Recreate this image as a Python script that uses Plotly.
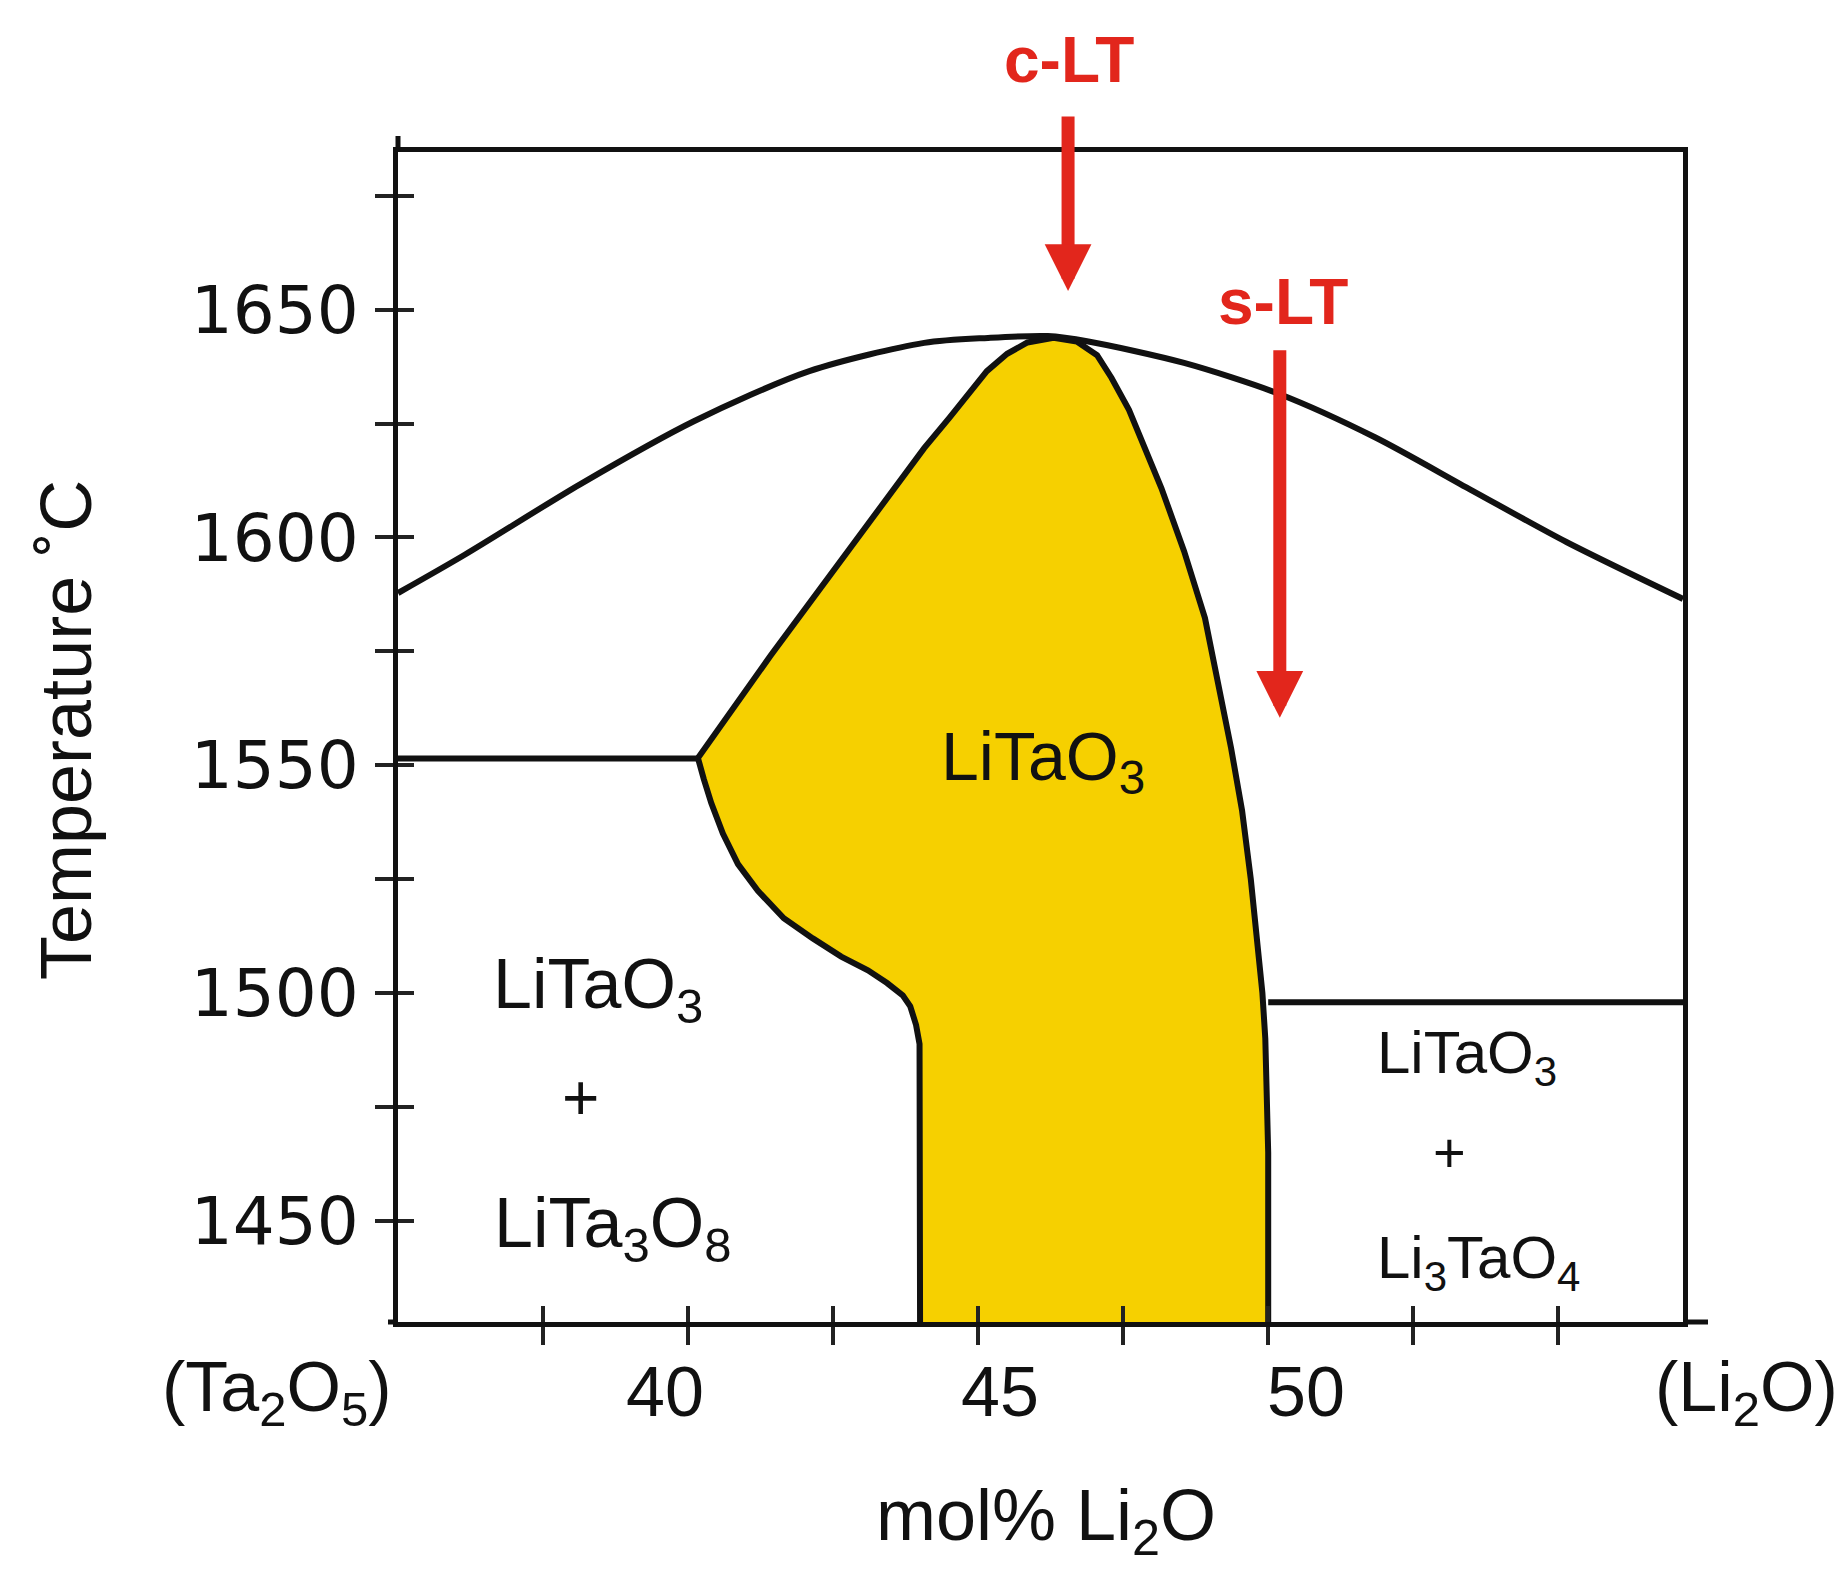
import plotly.graph_objects as go

# ---------------- data ----------------
# liquidus curve (mol% Li2O, temperature in °C)
liq_x = [35.0, 36.15, 38.13, 40.10, 42.09, 44.07, 45.17, 46.2, 46.9, 48.55, 50.19, 51.84, 53.5, 55.14, 57.15]
liq_T = [1587.8, 1596.2, 1611.6, 1625.5, 1636.5, 1642.7, 1643.8, 1644.2, 1643.0, 1638.3, 1631.5, 1622.0, 1610.4, 1599.0, 1586.5]

# LiTaO3 solid-solution field: left boundary (bottom -> apex)
ss_left_x = [44.0, 44.0, 43.99, 43.93, 43.83, 43.7, 43.43, 43.1, 42.64, 42.15, 41.65, 41.2, 40.86,
             40.6, 40.40, 40.27, 40.17, 41.43, 42.74, 44.07, 44.5, 45.15, 45.5, 45.85, 46.3]
ss_left_T = [1420, 1480, 1488.8, 1493.0, 1497.1, 1499.5, 1502.2, 1505.0, 1508.0, 1512.0, 1516.4, 1522.5, 1528.3,
             1535.0, 1541.7, 1547.0, 1551.6, 1574.2, 1597.0, 1619.6, 1626.2, 1636.5, 1640.3, 1642.8, 1643.8]
# right boundary (apex -> bottom)
ss_right_x = [46.7, 47.05, 47.3, 47.6, 48.16, 48.55, 48.91, 49.36, 49.55, 49.70, 49.82, 49.90, 49.95, 49.98, 50.0, 50.0]
ss_right_T = [1643.0, 1640.0, 1635.0, 1628.0, 1610.8, 1597.0, 1582.3, 1553.8, 1540.0, 1525.0, 1510.0, 1500.0, 1490.0, 1478.0, 1465.0, 1420]

# eutectic lines
eut_left_x = [35.0, 40.17]
eut_left_T = [1551.5, 1551.5]
eut_right_x = [50.0, 57.15]
eut_right_T = [1498.0, 1498.0]

# growth compositions (arrows): x, arrow tail T, arrow tip T
clt_x, clt_tail, clt_tip = 46.55, 1692.7, 1654.1
slt_x, slt_tail, slt_tip = 50.2, 1641.4, 1560.4

# axes
x_range = [35.0, 57.15]
y_range = [1427.8, 1684.6]
x_ticks = [37.5, 40, 42.5, 45, 47.5, 50, 52.5, 55]
y_ticks = [1450, 1475, 1500, 1525, 1550, 1575, 1600, 1625, 1650, 1675]
y_ticktext = ["1450", "", "1500", "", "1550", "", "1600", "", "1650", ""]
x_label_text = ["(Ta<sub>2</sub>O<sub>5</sub>)", "40", "45", "50", "(Li<sub>2</sub>O)"]
x_label_pix = [269, 657, 992, 1298, 1738]

# ---------------- figure ----------------
W, H = 1847, 1571
ML, MR, MT, MB = 390, 172, 144, 257
PW, PH = W - ML - MR, H - MT - MB

def py(ypix):
    return (H - MB - ypix) / PH

def px(xpix):
    return (xpix - ML) / PW

BLACK = "#111111"
RED = "#E2261C"
YELLOW = "#F6D000"
FAM = "Liberation Sans, Arial, sans-serif"
LW = 6

fig = go.Figure()

fig.add_trace(go.Scatter(
    x=ss_left_x + ss_right_x, y=ss_left_T + ss_right_T,
    mode="lines", fill="toself", fillcolor=YELLOW,
    line=dict(color=BLACK, width=LW), hoverinfo="skip"))

fig.add_trace(go.Scatter(x=liq_x, y=liq_T, mode="lines",
                         line=dict(color=BLACK, width=LW, shape="spline", smoothing=0.8),
                         hoverinfo="skip"))
fig.add_trace(go.Scatter(x=eut_left_x, y=eut_left_T, mode="lines",
                         line=dict(color=BLACK, width=LW), hoverinfo="skip"))
fig.add_trace(go.Scatter(x=eut_right_x, y=eut_right_T, mode="lines",
                         line=dict(color=BLACK, width=LW), hoverinfo="skip"))
# invisible trace to carry the overlay axes (inner half of the crossing ticks)
fig.add_trace(go.Scatter(x=[45], y=[1500], xaxis="x2", yaxis="y2", mode="markers",
                         marker=dict(opacity=0), hoverinfo="skip"))

ann = []
# arrows
for xx, tail, tip in [(clt_x, clt_tail, clt_tip), (slt_x, slt_tail, slt_tip)]:
    ann.append(dict(x=xx, y=tip, ax=xx, ay=tail, xref="x", yref="y", axref="x", ayref="y",
                    text="", showarrow=True, arrowhead=2, arrowsize=0.72, arrowwidth=13,
                    arrowcolor=RED))
ann.append(dict(x=46.57, y=py(52), xref="x", yref="paper", text="<b>c-LT</b>", showarrow=False,
                xanchor="center", yanchor="middle",
                font=dict(family=FAM, size=64, color=RED)))
ann.append(dict(x=50.26, y=py(294), xref="x", yref="paper", text="<b>s-LT</b>", showarrow=False,
                xanchor="center", yanchor="middle",
                font=dict(family=FAM, size=64, color=RED)))

# phase labels
phase_labels = [
    ("LiTaO<sub>3</sub>", 46.12, 1551.0, 68),
    ("LiTaO<sub>3</sub>", 38.45, 1501.0, 70),
    ("+", 38.14, 1477.0, 64),
    ("LiTa<sub>3</sub>O<sub>8</sub>", 38.70, 1448.5, 70),
    ("LiTaO<sub>3</sub>", 53.43, 1486.0, 60),
    ("+", 53.13, 1465.0, 56),
    ("Li<sub>3</sub>TaO<sub>4</sub>", 53.62, 1441.0, 60),
]
for t, xx, yy, fs in phase_labels:
    ann.append(dict(x=xx, y=yy, xref="x", yref="y", text=t, showarrow=False,
                    xanchor="center", yanchor="middle",
                    font=dict(size=fs, family=FAM, color=BLACK)))

# x tick labels
for t, xp in zip(x_label_text, x_label_pix):
    ann.append(dict(x=px(xp), y=py(1384), xref="paper", yref="paper", text=t, showarrow=False,
                    xanchor="center", yanchor="middle",
                    font=dict(size=70, family=FAM, color=BLACK)))

# axis titles
ann.append(dict(x=px(1038), y=py(1512), xref="paper", yref="paper",
                text="mol% Li<sub>2</sub>O", showarrow=False, xanchor="center", yanchor="middle",
                font=dict(size=72, family=FAM, color=BLACK)))
ann.append(dict(x=px(58), y=py(722), xref="paper", yref="paper",
                text="Temperature ˚C", textangle=-90, showarrow=False,
                xanchor="center", yanchor="middle",
                font=dict(size=72, family=FAM, color=BLACK)))

axis_common = dict(showgrid=False, zeroline=False)

fig.update_layout(
    width=W, height=H, autosize=False,
    margin=dict(l=ML, r=MR, t=MT, b=MB, pad=0),
    paper_bgcolor="white", plot_bgcolor="white",
    showlegend=False,
    annotations=ann,
    xaxis=dict(range=x_range, tickvals=x_ticks, ticks="outside", ticklen=18, tickwidth=4,
               tickcolor="#222222", showticklabels=False, showline=True, linewidth=5,
               linecolor=BLACK, mirror=True, **axis_common),
    yaxis=dict(range=y_range, tickvals=y_ticks, ticktext=y_ticktext, ticks="outside",
               ticklen=18, tickwidth=4, tickcolor="#222222", showline=True, linewidth=5,
               linecolor=BLACK, mirror=True, ticklabelstandoff=3,
               tickfont=dict(family="DejaVu Sans", size=66, color=BLACK), **axis_common),
    xaxis2=dict(range=x_range, overlaying="x", anchor="y", side="bottom", tickvals=x_ticks,
                ticks="inside", ticklen=16, tickwidth=4, tickcolor="#222222",
                showticklabels=False, showline=False, **axis_common),
    yaxis2=dict(range=y_range, overlaying="y", anchor="x", side="left", tickvals=y_ticks,
                ticks="inside", ticklen=16, tickwidth=4, tickcolor="#222222",
                showticklabels=False, showline=False, **axis_common),
    shapes=[
        dict(type="line", xref="paper", yref="paper", x0=0, x1=0, y0=1.0, y1=py(128),
             line=dict(color=BLACK, width=5)),
        dict(type="line", xref="paper", yref="paper", x0=px(380), x1=0, y0=0, y1=0,
             line=dict(color=BLACK, width=5)),
        dict(type="line", xref="paper", yref="paper", x0=1.0, x1=px(1700), y0=0, y1=0,
             line=dict(color=BLACK, width=5)),
    ],
)

fig.write_html("out.html")
